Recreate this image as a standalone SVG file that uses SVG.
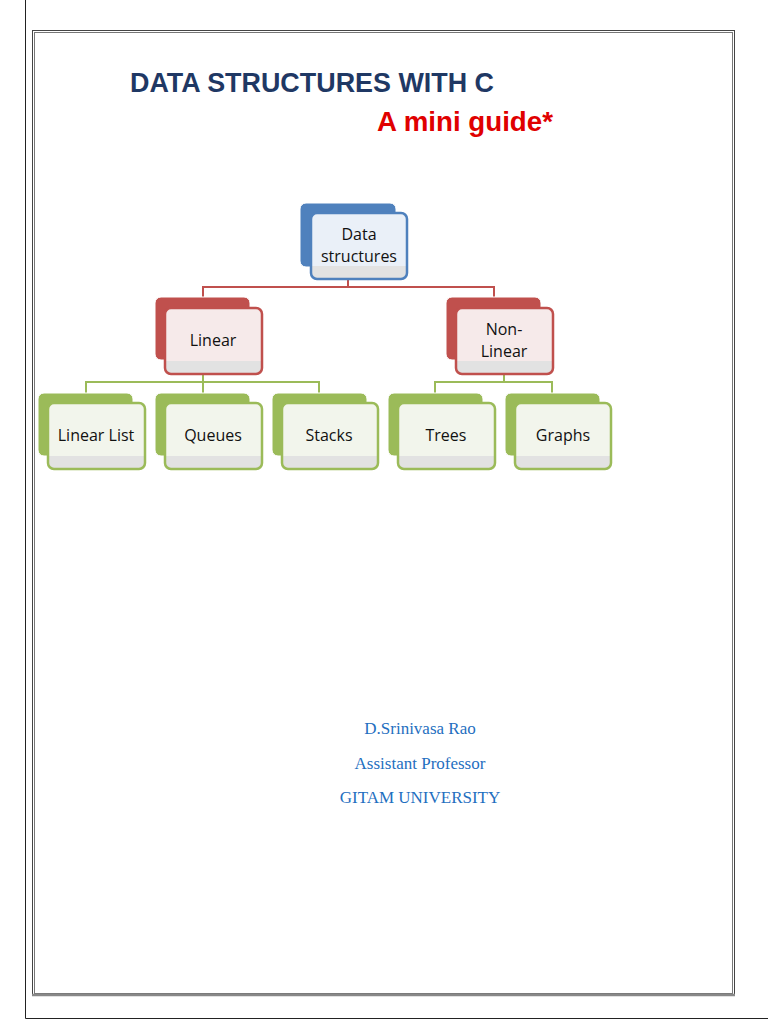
<svg xmlns="http://www.w3.org/2000/svg" width="768" height="1024" viewBox="0 0 768 1024">
<style>
.bk{stroke:#fff;stroke-width:1}
.fr{stroke-width:2.5}
.lb{font-family:"Open Sans","Liberation Sans",sans-serif;font-size:16px;fill:#111;text-anchor:middle}
.au{font-family:"Liberation Serif",serif;font-size:17px;fill:#1f6fbf;text-anchor:middle}
</style>
<defs>
<linearGradient id="gb" x1="0" y1="0" x2="0" y2="1"><stop offset="0.8" stop-color="#eaf0f8"/><stop offset="0.8" stop-color="#e2e2e2"/></linearGradient>
<linearGradient id="gr" x1="0" y1="0" x2="0" y2="1"><stop offset="0.8" stop-color="#f6eaea"/><stop offset="0.8" stop-color="#e2e2e2"/></linearGradient>
<linearGradient id="gg" x1="0" y1="0" x2="0" y2="1"><stop offset="0.8" stop-color="#f2f5ec"/><stop offset="0.8" stop-color="#e2e2e2"/></linearGradient>
</defs>
<rect width="768" height="1024" fill="#fff"/>
<path d="M25.5,0 V1018.5 H768" fill="none" stroke="#222" stroke-width="1"/>
<rect x="32.5" y="30.5" width="702" height="965" fill="none" stroke="#444" stroke-width="1"/>
<rect x="34.5" y="32.5" width="698" height="961" fill="none" stroke="#777" stroke-width="1"/>
<line x1="32" y1="995" x2="735" y2="995" stroke="#888" stroke-width="2.5"/>
<text x="130" y="92" font-family="Liberation Sans,sans-serif" font-weight="bold" font-size="27" fill="#1f3864" textLength="364" lengthAdjust="spacingAndGlyphs">DATA STRUCTURES WITH C</text>
<text x="377" y="131" font-family="Liberation Sans,sans-serif" font-weight="bold" font-size="27" fill="#e00000" textLength="176" lengthAdjust="spacingAndGlyphs">A mini guide*</text>
<g id="connectors" fill="none" stroke-width="2">
<path d="M348,279 V287 M203,297 V287 H494 V297" stroke="#c0504d"/>
<path d="M203,374 V393 M86,393 V382 H319 V393" stroke="#9bbb59"/>
<path d="M504,374 V382 M435,393 V382 H552 V393" stroke="#9bbb59"/>
</g>
<g id="n-data">
<rect class="bk" x="300" y="203" width="96" height="64" rx="6" fill="#4f81bd"/>
<rect class="fr" x="311" y="213" width="96" height="66" rx="6" fill="url(#gb)" stroke="#4f81bd"/>
<text class="lb" x="359" y="240">Data</text><text class="lb" x="359" y="262">structures</text>
</g>
<g id="n-linear">
<rect class="bk" x="155" y="297" width="95" height="63" rx="6" fill="#c0504d"/>
<rect class="fr" x="165" y="308" width="97" height="66" rx="6" fill="url(#gr)" stroke="#c0504d"/>
<text class="lb" x="213" y="346">Linear</text>
</g>
<g id="n-nonlinear">
<rect class="bk" x="446" y="297" width="95" height="63" rx="6" fill="#c0504d"/>
<rect class="fr" x="456" y="308" width="97" height="66" rx="6" fill="url(#gr)" stroke="#c0504d"/>
<text class="lb" x="504" y="335">Non-</text><text class="lb" x="504" y="357">Linear</text>
</g>
<g id="n-linearlist">
<rect class="bk" x="38" y="393" width="95" height="63" rx="6" fill="#9bbb59"/>
<rect class="fr" x="48" y="403" width="97" height="66" rx="6" fill="url(#gg)" stroke="#9bbb59"/>
<text class="lb" x="96" y="441">Linear List</text>
</g>
<g id="n-queues">
<rect class="bk" x="155" y="393" width="95" height="63" rx="6" fill="#9bbb59"/>
<rect class="fr" x="165" y="403" width="97" height="66" rx="6" fill="url(#gg)" stroke="#9bbb59"/>
<text class="lb" x="213" y="441">Queues</text>
</g>
<g id="n-stacks">
<rect class="bk" x="272" y="393" width="95" height="63" rx="6" fill="#9bbb59"/>
<rect class="fr" x="282" y="403" width="96" height="66" rx="6" fill="url(#gg)" stroke="#9bbb59"/>
<text class="lb" x="329" y="441">Stacks</text>
</g>
<g id="n-trees">
<rect class="bk" x="388" y="393" width="95" height="63" rx="6" fill="#9bbb59"/>
<rect class="fr" x="398" y="403" width="97" height="66" rx="6" fill="url(#gg)" stroke="#9bbb59"/>
<text class="lb" x="446" y="441">Trees</text>
</g>
<g id="n-graphs">
<rect class="bk" x="505" y="393" width="95" height="63" rx="6" fill="#9bbb59"/>
<rect class="fr" x="515" y="403" width="96" height="66" rx="6" fill="url(#gg)" stroke="#9bbb59"/>
<text class="lb" x="563" y="441">Graphs</text>
</g>
<text class="au" x="420" y="734">D.Srinivasa Rao</text>
<text class="au" x="420" y="769">Assistant Professor</text>
<text class="au" x="420" y="803">GITAM UNIVERSITY</text>
</svg>
